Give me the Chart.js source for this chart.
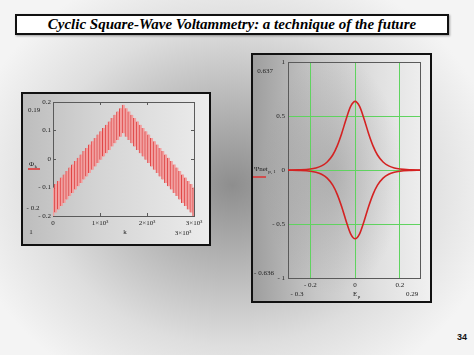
<!DOCTYPE html>
<html lang="en">
<head>
<meta charset="UTF-8">
<title>Cyclic Square-Wave Voltammetry</title>
<script src="https://cdn.jsdelivr.net/npm/chart.js"></script>
<style>
  html, body { margin: 0; padding: 0; }
  body {
    width: 474px; height: 355px; overflow: hidden; position: relative;
    background: radial-gradient(ellipse 270px 230px at 232px 185px, #8e8e8e 0%, #b6b6b6 35%, #dedede 70%, #f4f4f4 100%);
  }
  .title {
    position: absolute; left: 15px; top: 14px; width: 434px; height: 21px;
    box-sizing: border-box; border: 2px solid #111; background: #fff;
    box-shadow: 1px 1px 2px rgba(0,0,0,0.35);
    text-align: center; font: italic bold 15px "Liberation Serif", serif; line-height: 17px;
  }
  .box { position: absolute; box-sizing: border-box; border: 2px solid #111; }
  .box canvas { display: block; }
  #leftBox { left: 21px; top: 92px; width: 190px; height: 154px;
    background: linear-gradient(90deg, #bdbdbd 0%, #d4d4d4 40%, #ececec 100%); }
  #rightBox { left: 251px; top: 53px; width: 181px; height: 250px;
    background: radial-gradient(ellipse 70px 120px at 80px 120px, rgba(120,120,120,0.35), rgba(120,120,120,0) 100%),
                linear-gradient(90deg, #9e9e9e 0%, #c6c6c6 35%, #e0e0e0 70%, #f0f0f0 100%); }
  .page { position: absolute; left: 457px; top: 332px; font: bold 9px "Liberation Sans", sans-serif; color: #111; }
</style>
</head>
<body>

<div class="title">Cyclic Square-Wave Voltammetry: a technique of the future</div>

<div class="box" id="leftBox"><canvas id="waveChart" width="186" height="150"></canvas></div>
<div class="box" id="rightBox"><canvas id="currentChart" width="177" height="246"></canvas></div>

<div class="page">34</div>

<script>
// staircase of the potential programme (one level per visible step) and square-wave swing
const kStairs = [0, 60, 120, 180, 240, 300, 360, 420, 480, 540, 600, 660, 720, 780, 840, 900, 960, 1020, 1080, 1140, 1200, 1260, 1320, 1380, 1440, 1500,
  1560, 1620, 1680, 1740, 1800, 1860, 1920, 1980, 2040, 2100, 2160, 2220, 2280, 2340, 2400, 2460, 2520, 2580, 2640, 2700, 2760, 2820, 2880, 2940, 3000];
const eStairs = [-0.150, -0.138, -0.127, -0.115, -0.104, -0.092, -0.080, -0.069, -0.057, -0.046, -0.034, -0.022, -0.011, 0.001, 0.012, 0.024, 0.036, 0.047, 0.059, 0.070, 0.082, 0.094, 0.105, 0.117, 0.128, 0.140,
  0.128, 0.117, 0.105, 0.094, 0.082, 0.070, 0.059, 0.047, 0.036, 0.024, 0.012, 0.001, -0.011, -0.022, -0.034, -0.046, -0.057, -0.069, -0.080, -0.092, -0.104, -0.115, -0.127, -0.138, -0.150];
const swing = 0.05;
const kTicks = [0, 1000, 2000, 3000];
const kTickLabels = ['0', '1\u00d710\u00b3', '2\u00d710\u00b3', '3\u00d710\u00b3'];

// net current vs peak potential, forward and reverse scans
const ePeak = [-0.3, -0.25, -0.2, -0.175, -0.15, -0.125, -0.1, -0.08, -0.06, -0.04, -0.02, 0, 0.02, 0.04, 0.06, 0.08, 0.1, 0.125, 0.15, 0.175, 0.2, 0.25, 0.29];
const psiForward = [0.001, 0.003, 0.010, 0.020, 0.039, 0.075, 0.140, 0.225, 0.340, 0.474, 0.590, 0.637, 0.590, 0.474, 0.340, 0.225, 0.140, 0.075, 0.039, 0.020, 0.010, 0.003, 0.001];
const psiReverse = [-0.001, -0.003, -0.010, -0.020, -0.039, -0.075, -0.140, -0.225, -0.340, -0.474, -0.590, -0.636, -0.590, -0.474, -0.340, -0.225, -0.140, -0.075, -0.039, -0.020, -0.010, -0.003, -0.001];
const eTicks = [-0.2, 0, 0.2];

const serif = '"Liberation Serif", "Times New Roman", serif';
const minusFmt = v => { const r = Math.round(v * 10) / 10; return r < 0 ? '- ' + Math.abs(r) : String(r); };

// frame, inner tick marks and the Mathcad-style side notes
const mathcadFrame = {
  id: 'mathcadFrame',
  beforeDatasetsDraw(chart, args, opts) {
    const ctx = chart.ctx, a = chart.chartArea;
    ctx.save();
    ctx.strokeStyle = '#5a5a5a';
    ctx.lineWidth = 1;
    ctx.strokeRect(Math.round(a.left) + 0.5, Math.round(a.top) + 0.5, Math.round(a.right - a.left), Math.round(a.bottom - a.top));
    if (opts.innerTicks) {
      chart.scales.x.ticks.forEach(t => {
        const px = Math.round(chart.scales.x.getPixelForValue(t.value)) + 0.5;
        if (px <= a.left + 1 || px >= a.right - 1) return;
        ctx.beginPath();
        ctx.moveTo(px, a.bottom); ctx.lineTo(px, a.bottom - 3);
        ctx.moveTo(px, a.top); ctx.lineTo(px, a.top + 3);
        ctx.stroke();
      });
      chart.scales.y.ticks.forEach(t => {
        const py = Math.round(chart.scales.y.getPixelForValue(t.value)) + 0.5;
        if (py <= a.top + 1 || py >= a.bottom - 1) return;
        ctx.beginPath();
        ctx.moveTo(a.left, py); ctx.lineTo(a.left + 3, py);
        ctx.moveTo(a.right, py); ctx.lineTo(a.right - 3, py);
        ctx.stroke();
      });
    }
    ctx.restore();
  },
  afterDraw(chart, args, opts) {
    const ctx = chart.ctx;
    ctx.save();
    ctx.fillStyle = '#222';
    ctx.textBaseline = 'middle';
    (opts.notes || []).forEach(n => {
      ctx.font = (n.size || 7) + 'px ' + serif;
      ctx.textAlign = n.align || 'center';
      ctx.fillText(n.text, n.x, n.y);
      if (n.sub) {
        const w = ctx.measureText(n.text).width;
        const x0 = n.align === 'left' ? n.x + w : n.x + w / 2;
        ctx.font = '5px ' + serif;
        ctx.textAlign = 'left';
        ctx.fillText(n.sub, x0 + 0.5, n.y + 2.5);
      }
    });
    (opts.keys || []).forEach(k => {
      ctx.strokeStyle = k.color;
      ctx.lineWidth = 1.5;
      ctx.beginPath();
      ctx.moveTo(k.x1, k.y); ctx.lineTo(k.x2, k.y);
      ctx.stroke();
    });
    ctx.restore();
  }
};

new Chart(document.getElementById('waveChart'), {
  type: 'bar',
  data: {
    datasets: [{
      data: kStairs.map((k, i) => ({ x: k, y: [eStairs[i] - swing, eStairs[i] + swing] })),
      backgroundColor: '#f2a0a0',
      borderColor: '#e04444',
      borderWidth: { left: 1, right: 0, top: 0, bottom: 0 },
      borderSkipped: false,
      barPercentage: 1,
      categoryPercentage: 1
    }]
  },
  options: {
    responsive: false,
    animation: false,
    layout: { padding: { left: 0, top: 8, right: 15, bottom: 0 } },
    scales: {
      x: {
        type: 'linear', min: 0, max: 3000, offset: false,
        afterFit: s => { s.height = 28; },
        afterBuildTicks: s => { s.ticks = kTicks.map(v => ({ value: v })); },
        grid: { display: false, offset: false, drawTicks: false },
        border: { display: false },
        ticks: { padding: 3, maxRotation: 0, color: '#222', font: { family: serif, size: 7 },
          callback: v => kTickLabels[kTicks.indexOf(v)] }
      },
      y: {
        min: -0.2, max: 0.2,
        afterFit: s => { s.width = 30; },
        grid: { display: false, drawTicks: false },
        border: { display: false },
        ticks: { stepSize: 0.1, padding: 2, color: '#222', font: { family: serif, size: 7 }, callback: minusFmt }
      }
    },
    plugins: {
      legend: { display: false },
      tooltip: { enabled: false },
      mathcadFrame: {
        innerTicks: true,
        notes: [
          { text: '0.19', x: 11, y: 16 },
          { text: '- 0.2', x: 10, y: 114 },
          { text: '\u03a6', sub: 'k', x: 6, y: 70, align: 'left' },
          { text: '1', x: 8, y: 138 },
          { text: 'k', x: 102, y: 138 },
          { text: '3\u00d710\u00b3', x: 160, y: 139 }
        ],
        keys: [{ x1: 5, x2: 17, y: 75, color: '#e03030' }]
      }
    }
  },
  plugins: [mathcadFrame]
});

new Chart(document.getElementById('currentChart'), {
  type: 'line',
  data: {
    datasets: [
      { data: ePeak.map((e, i) => ({ x: e, y: psiForward[i] })), borderColor: '#d42222', borderWidth: 1.6, pointRadius: 0, cubicInterpolationMode: 'monotone', fill: false },
      { data: ePeak.map((e, i) => ({ x: e, y: psiReverse[i] })), borderColor: '#d42222', borderWidth: 1.6, pointRadius: 0, cubicInterpolationMode: 'monotone', fill: false }
    ]
  },
  options: {
    responsive: false,
    animation: false,
    layout: { padding: { left: 0, top: 6, right: 10, bottom: 0 } },
    scales: {
      x: {
        type: 'linear', min: -0.3, max: 0.29,
        afterFit: s => { s.height = 23; },
        afterBuildTicks: s => { s.ticks = eTicks.map(v => ({ value: v })); },
        grid: { color: '#5fd35f', lineWidth: 1, drawTicks: false },
        border: { display: false },
        ticks: { padding: 3, maxRotation: 0, color: '#222', font: { family: serif, size: 7 }, callback: minusFmt }
      },
      y: {
        min: -1, max: 1,
        afterFit: s => { s.width = 35; },
        grid: { color: c => (Math.abs(c.tick.value) === 1 ? 'rgba(0,0,0,0)' : '#5fd35f'), lineWidth: 1, drawTicks: false },
        border: { display: false },
        ticks: { stepSize: 0.5, padding: 3, color: '#222', font: { family: serif, size: 7 },
          callback: v => (Math.abs(v) === 1 || v === 0 ? minusFmt(v) : (v < 0 ? '- ' : '') + Math.abs(v)) }
      }
    },
    plugins: {
      legend: { display: false },
      tooltip: { enabled: false },
      mathcadFrame: {
        innerTicks: false,
        notes: [
          { text: String(Math.max(...psiForward)), x: 12, y: 16 },
          { text: '- ' + Math.abs(Math.min(...psiReverse)), x: 11, y: 218 },
          { text: '\u03a8net', sub: 'p, 1', x: 1, y: 114, align: 'left' },
          { text: '- 0.3', x: 44, y: 239 },
          { text: 'E', sub: 'p', x: 100, y: 239, align: 'left' },
          { text: '0.29', x: 159, y: 239 }
        ],
        keys: [{ x1: 0, x2: 13, y: 122, color: '#e03030' }]
      }
    }
  },
  plugins: [mathcadFrame]
});
</script>

</body>
</html>
